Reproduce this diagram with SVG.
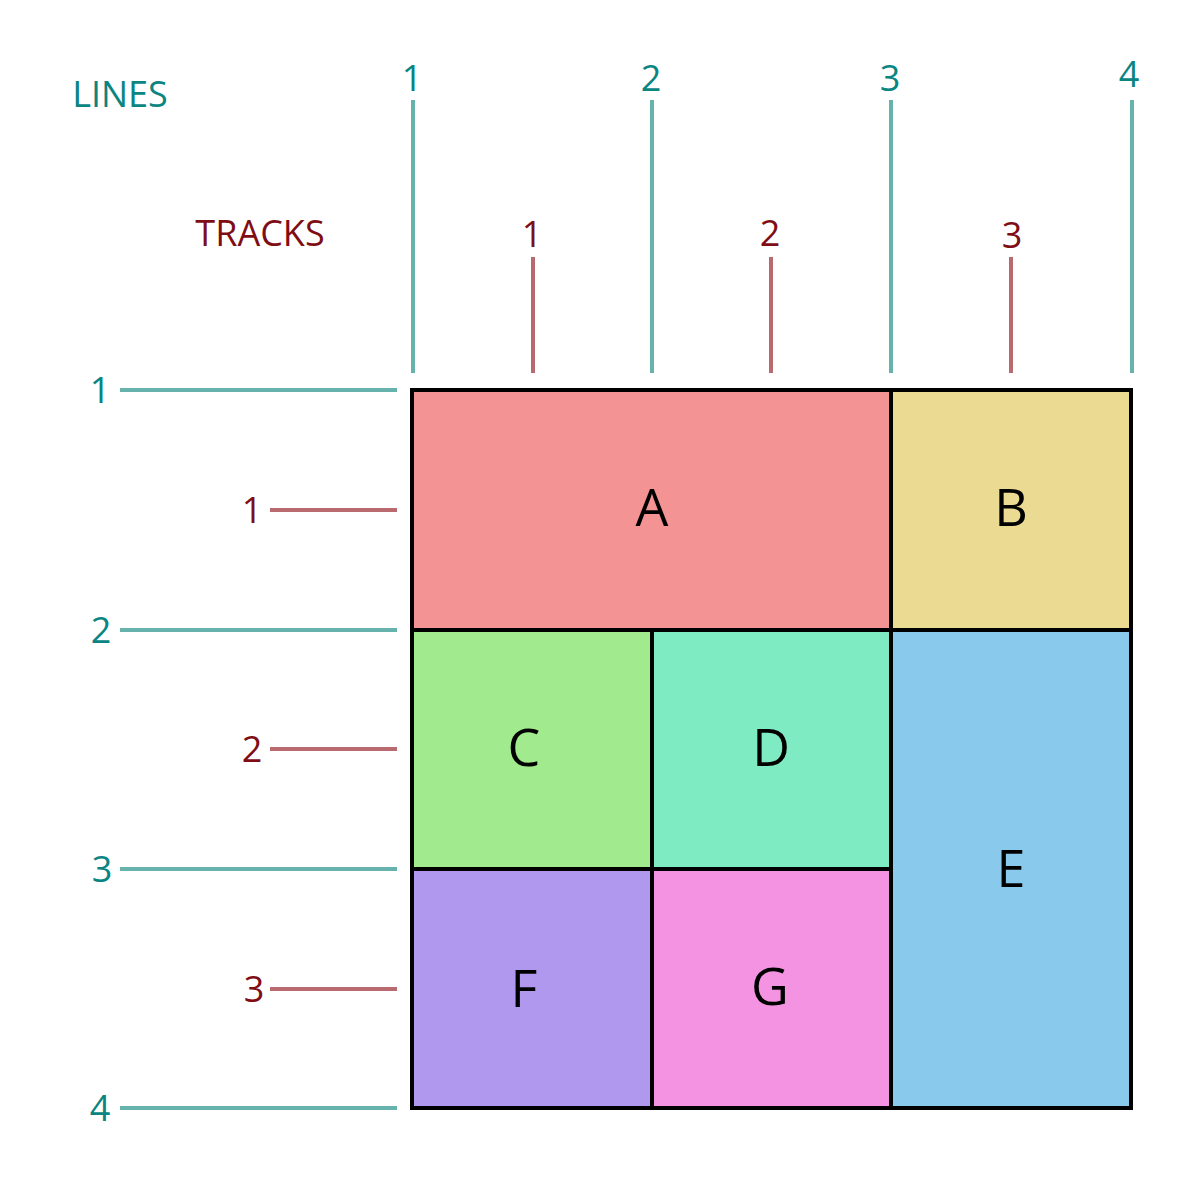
<svg xmlns="http://www.w3.org/2000/svg" width="1200" height="1184" viewBox="0 0 1200 1184">
<style>
text{font-family:"Open Sans","DejaVu Sans",sans-serif}
.ln{stroke:#66b3ae;stroke-width:4}
.tr{stroke:#b96a6e;stroke-width:4}
.lt{fill:#0a8582;font-size:36px;text-anchor:middle}
.tt{fill:#7f0d14;font-size:36px;text-anchor:middle}
.c{stroke:#000;stroke-width:4}
.cl{font-size:52px;text-anchor:middle;fill:#000}
</style>
<rect width="1200" height="1184" fill="#fff"/>
<g id="connectors">
<line class="ln" x1="413" y1="100" x2="413" y2="373"/>
<line class="ln" x1="652" y1="100" x2="652" y2="373"/>
<line class="ln" x1="891" y1="100" x2="891" y2="373"/>
<line class="ln" x1="1132" y1="100" x2="1132" y2="373"/>
<line class="tr" x1="533" y1="257" x2="533" y2="373"/>
<line class="tr" x1="771" y1="257" x2="771" y2="373"/>
<line class="tr" x1="1011" y1="257" x2="1011" y2="373"/>
<line class="ln" x1="120" y1="390" x2="397" y2="390"/>
<line class="ln" x1="120" y1="630" x2="397" y2="630"/>
<line class="ln" x1="120" y1="869" x2="397" y2="869"/>
<line class="ln" x1="120" y1="1108" x2="397" y2="1108"/>
<line class="tr" x1="270" y1="510" x2="397" y2="510"/>
<line class="tr" x1="270" y1="749" x2="397" y2="749"/>
<line class="tr" x1="270" y1="989" x2="397" y2="989"/>
</g>
<g id="labels">
<text x="120" y="107" class="lt">LINES</text>
<text x="260" y="246" class="tt">TRACKS</text>
<text x="412" y="91" class="lt">1</text>
<text x="651" y="91" class="lt">2</text>
<text x="890" y="91" class="lt">3</text>
<text x="1129" y="87" class="lt">4</text>
<text x="532" y="247" class="tt">1</text>
<text x="770" y="246" class="tt">2</text>
<text x="1012" y="248" class="tt">3</text>
<text x="100" y="403" class="lt">1</text>
<text x="101" y="643" class="lt">2</text>
<text x="102" y="882" class="lt">3</text>
<text x="100" y="1121" class="lt">4</text>
<text x="252" y="523" class="tt">1</text>
<text x="252" y="762" class="tt">2</text>
<text x="254" y="1002" class="tt">3</text>
</g>
<g id="A"><rect class="c" x="412" y="390" width="479" height="240" fill="#f49394"/><text class="cl" x="652" y="526">A</text></g>
<g id="B"><rect class="c" x="891" y="390" width="240" height="240" fill="#ebda91"/><text class="cl" x="1011" y="526">B</text></g>
<g id="C"><rect class="c" x="412" y="630" width="240" height="239" fill="#a1ea8d"/><text class="cl" x="524" y="766">C</text></g>
<g id="D"><rect class="c" x="652" y="630" width="239" height="239" fill="#7eebc2"/><text class="cl" x="771" y="766">D</text></g>
<g id="E"><rect class="c" x="891" y="630" width="240" height="478" fill="#89c9eb"/><text class="cl" x="1011" y="887">E</text></g>
<g id="F"><rect class="c" x="412" y="869" width="240" height="239" fill="#af98ee"/><text class="cl" x="524" y="1007">F</text></g>
<g id="G"><rect class="c" x="652" y="869" width="239" height="239" fill="#f493e2"/><text class="cl" x="770" y="1005">G</text></g>
</svg>
